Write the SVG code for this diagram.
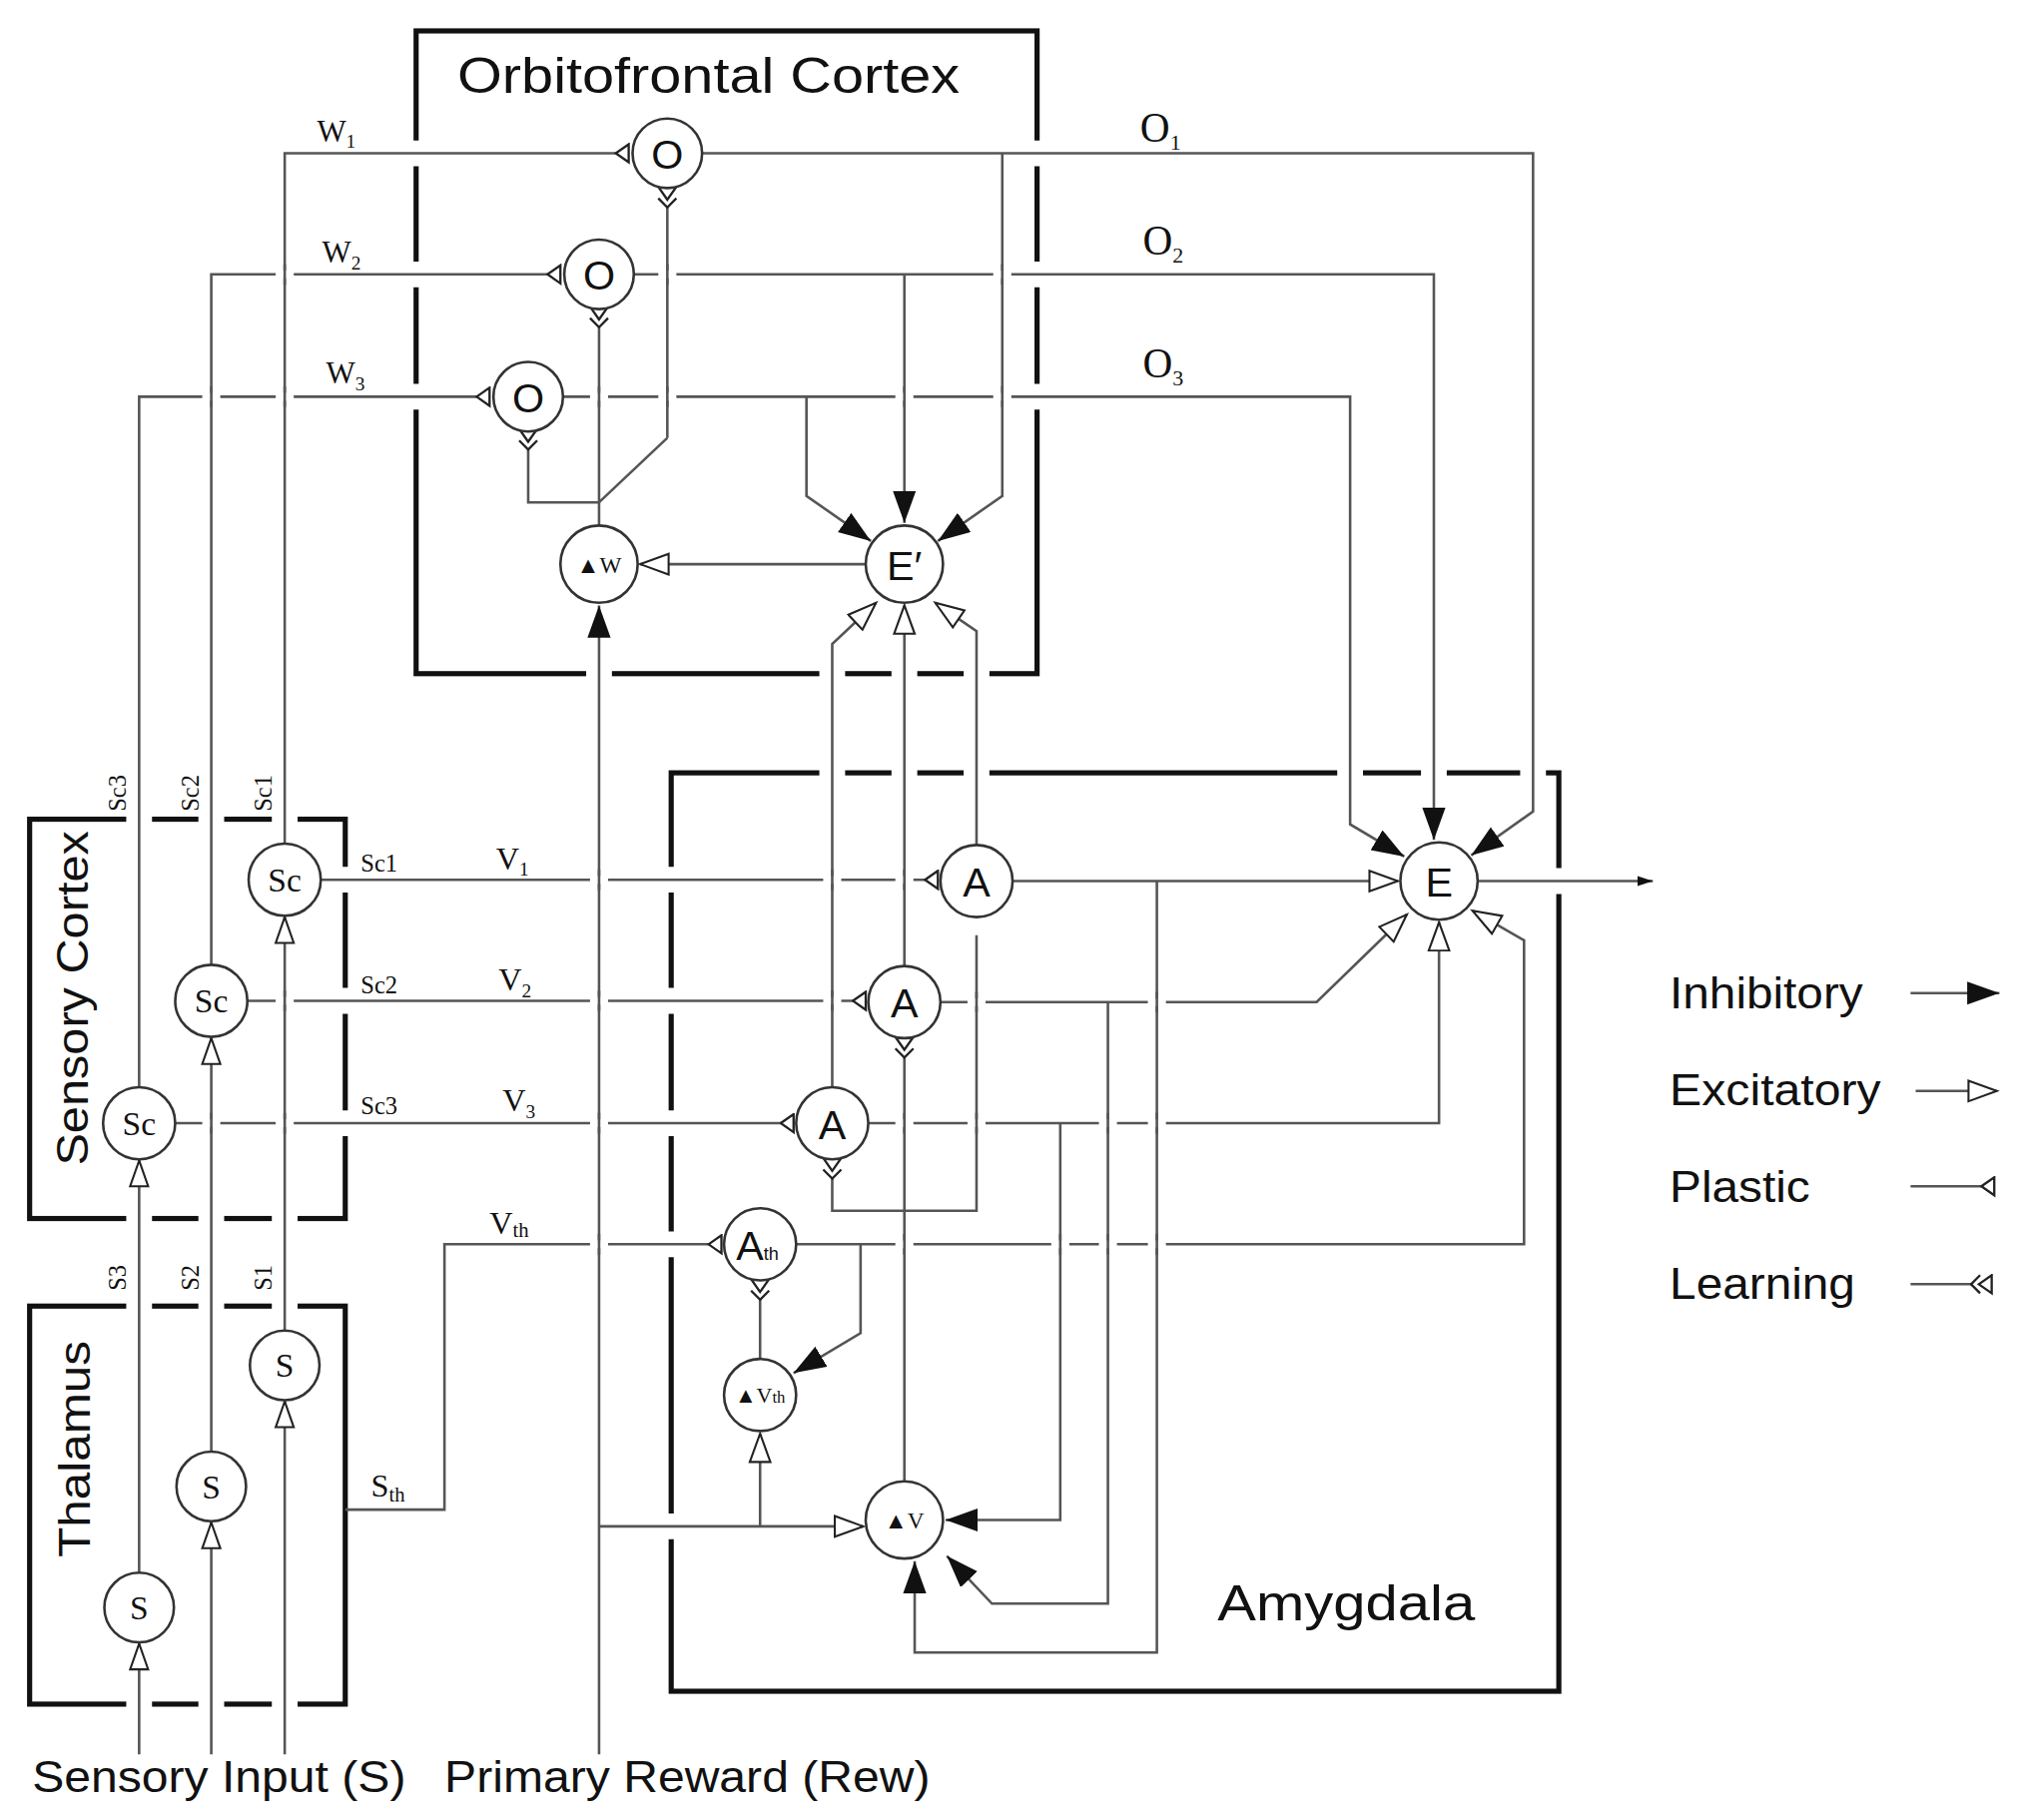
<svg xmlns="http://www.w3.org/2000/svg" width="2023" height="1823" viewBox="0 0 2023 1823">
<style>
.box{fill:none;stroke:#111;stroke-width:4}
.c{fill:none;stroke:#555;stroke-width:2}
.gw{fill:none;stroke:#fff;stroke-width:6}
.bw{fill:none;stroke:#fff;stroke-width:8}
.n{fill:#fff;stroke:#333;stroke-width:2}
.sans{font-family:"Liberation Sans",Arial,sans-serif;fill:#111}
.ser{font-family:"Liberation Serif","Times New Roman",serif;fill:#111}
.ex{fill:#fff;stroke:#222;stroke-width:1.6}
</style>
<defs>
<marker id="inh" markerUnits="userSpaceOnUse" markerWidth="32" markerHeight="22" refX="25" refY="9" orient="auto" viewBox="0 0 32 22"><path d="M0 0L25 9L0 18z" fill="#111"/></marker>
<marker id="inhs" markerUnits="userSpaceOnUse" markerWidth="16" markerHeight="10" refX="12" refY="4" orient="auto" viewBox="0 0 16 10"><path d="M0 0L12 4L0 8z" fill="#111"/></marker>
<marker id="exc" markerUnits="userSpaceOnUse" markerWidth="28" markerHeight="22" refX="23" refY="10" orient="auto" viewBox="0 0 28 22"><path d="M1 2L23 10L1 18z" fill="#fff" stroke="#222" stroke-width="1.6"/></marker>
<marker id="pla" markerUnits="userSpaceOnUse" markerWidth="16" markerHeight="18" refX="1" refY="8" orient="auto" viewBox="0 0 16 18"><path d="M1 8L11 1L11 15z" fill="#fff" stroke="#222" stroke-width="1.8"/></marker>
<marker id="lrn" markerUnits="userSpaceOnUse" markerWidth="22" markerHeight="18" refX="1" refY="8" orient="auto" viewBox="0 0 22 18"><path d="M8 1L1 8L8 15" fill="none" stroke="#222" stroke-width="1.8"/><path d="M7 8L17 1L17 15z" fill="#fff" stroke="#222" stroke-width="1.8"/></marker>
</defs>
<g transform="scale(1.2902)">
<g id="boxes">
<rect class="box" x="323" y="24" width="482" height="499"/>
<rect class="box" x="23" y="636" width="245" height="310"/>
<rect class="box" x="23" y="1014" width="245" height="309"/>
<rect class="box" x="521" y="600" width="689" height="713"/>
<path class="bw" d="M323 109v20M323 203v20M323 298v20M805 109v20M805 203v20M805 298v20M268 673v20M268 767v20M268 862v20M521 673v20M521 767v20M521 862v20M521 956v20M521 1175v20M1210 674v20M455 523h20M636 523h20M692 523h20M748 523h20M636 600h20M692 600h20M748 600h20M1038 600h20M1103 600h20M1180 600h20M98 636h20M154 636h20M211 636h20M98 946h20M154 946h20M211 946h20M98 1014h20M154 1014h20M211 1014h20M98 1323h20M154 1323h20M211 1323h20"/>
<text class="sans" x="355" y="72" font-size="38" textLength="390" lengthAdjust="spacingAndGlyphs">Orbitofrontal Cortex</text>
<text class="sans" font-size="34" transform="translate(68,775) rotate(-90)" text-anchor="middle" textLength="260" lengthAdjust="spacingAndGlyphs">Sensory Cortex</text>
<text class="sans" font-size="34" transform="translate(70,1125) rotate(-90)" text-anchor="middle" textLength="168" lengthAdjust="spacingAndGlyphs">Thalamus</text>
<text class="sans" x="945" y="1258" font-size="38" textLength="200" lengthAdjust="spacingAndGlyphs">Amygdala</text>
</g>
<g id="connectors">
<path class="c" d="M221 1362V119H478" marker-end="url(#pla)"/>
<path class="c" d="M164 1362V213H425" marker-end="url(#pla)"/>
<path class="c" d="M108 1362V308H370" marker-end="url(#pla)"/>
<path class="c" d="M249 683H718" marker-end="url(#pla)"/>
<path class="c" d="M192 777H662" marker-end="url(#pla)"/>
<path class="c" d="M136 872H606" marker-end="url(#pla)"/>
<path class="c" d="M268 1172H345V966H550" marker-end="url(#pla)"/>
<path class="c" d="M545 119H1190V630L1142 664" marker-end="url(#inh)"/>
<path class="c" d="M778 119V385L728 420" marker-end="url(#inh)"/>
<path class="c" d="M492 213H1113V652" marker-end="url(#inh)"/>
<path class="c" d="M702 213V406" marker-end="url(#inh)"/>
<path class="c" d="M437 308H1048V640L1090 665" marker-end="url(#inh)"/>
<path class="c" d="M626 308V385L676 420" marker-end="url(#inh)"/>
<path class="c" d="M518 340V161" marker-end="url(#lrn)"/>
<path class="c" d="M518 340L465 390"/>
<path class="c" d="M465 408V254" marker-end="url(#lrn)"/>
<path class="c" d="M465 390H410V349" marker-end="url(#lrn)"/>
<path class="c" d="M672 438H497" marker-end="url(#exc)"/>
<path class="c" d="M465 1362V470" marker-end="url(#inh)"/>
<path class="c" d="M465 1185H670" marker-end="url(#exc)"/>
<path class="c" d="M590 1185V1113" marker-end="url(#exc)"/>
<path class="c" d="M646 844V500L680 468" marker-end="url(#exc)"/>
<path class="c" d="M702 750V470" marker-end="url(#exc)"/>
<path class="c" d="M758 656V490L726 468" marker-end="url(#exc)"/>
<path class="c" d="M758 726V940H646V915" marker-end="url(#lrn)"/>
<path class="c" d="M702 1150V821" marker-end="url(#lrn)"/>
<path class="c" d="M786 684H1085" marker-end="url(#exc)"/>
<path class="c" d="M898 684V1283H710V1212" marker-end="url(#inh)"/>
<path class="c" d="M730 778H1022L1092 710" marker-end="url(#exc)"/>
<path class="c" d="M860 778V1245H770L735 1208" marker-end="url(#inh)"/>
<path class="c" d="M674 872H1117V716" marker-end="url(#exc)"/>
<path class="c" d="M823 872V1180H734" marker-end="url(#inh)"/>
<path class="c" d="M618 966H1183V730L1143 707" marker-end="url(#exc)"/>
<path class="c" d="M668 966V1035L616 1066" marker-end="url(#inh)"/>
<path class="c" d="M590 1055V1009" marker-end="url(#lrn)"/>
<path class="c" d="M1147 684H1283" marker-end="url(#inhs)"/>
<path class="gw" d="M214 213h14M157 308h14M214 308h14M458 308h14M511 308h14M695 308h14M771 308h14M511 213h14M771 213h14M458 683h14M639 683h14M695 683h14M214 777h14M458 777h14M639 777h14M157 872h14M214 872h14M458 872h14M458 966h14M751 778h14M891 778h14M695 872h14M751 872h14M853 872h14M891 872h14M695 966h14M816 966h14M853 966h14M891 966h14"/>
<path class="c" d="M221 205v16M164 300v16M221 300v16M465 300v16M518 300v16M702 300v16M778 300v16M518 205v16M778 205v16M465 675v16M646 675v16M702 675v16M221 769v16M465 769v16M646 769v16M164 864v16M221 864v16M465 864v16M465 958v16M758 770v16M898 770v16M702 864v16M758 864v16M860 864v16M898 864v16M702 958v16M823 958v16M860 958v16M898 958v16"/>
<polygon class="ex" points="221,1088 214,1108 228,1108"/>
<polygon class="ex" points="164,1182 157,1202 171,1202"/>
<polygon class="ex" points="108,1276 101,1296 115,1296"/>
<polygon class="ex" points="221,712 214,732 228,732"/>
<polygon class="ex" points="164,806 157,826 171,826"/>
<polygon class="ex" points="108,901 101,921 115,921"/>
</g>
<g id="labels" class="ser">
<text x="246" y="110" font-size="24">W<tspan font-size="15" dy="5">1</tspan></text>
<text x="250" y="204" font-size="24">W<tspan font-size="15" dy="5">2</tspan></text>
<text x="253" y="298" font-size="24">W<tspan font-size="15" dy="5">3</tspan></text>
<text x="885" y="110" font-size="32">O<tspan font-size="17" dy="6">1</tspan></text>
<text x="887" y="198" font-size="32">O<tspan font-size="17" dy="6">2</tspan></text>
<text x="887" y="293" font-size="32">O<tspan font-size="17" dy="6">3</tspan></text>
<text x="280" y="677" font-size="19">Sc1</text>
<text x="280" y="771" font-size="19">Sc2</text>
<text x="280" y="865" font-size="19">Sc3</text>
<text x="385" y="675" font-size="25">V<tspan font-size="15" dy="5">1</tspan></text>
<text x="387" y="769" font-size="25">V<tspan font-size="15" dy="5">2</tspan></text>
<text x="390" y="863" font-size="25">V<tspan font-size="15" dy="5">3</tspan></text>
<text x="380" y="958" font-size="25">V<tspan font-size="16" dy="2">th</tspan></text>
<text x="288" y="1162" font-size="25">S<tspan font-size="16" dy="4">th</tspan></text>
<text font-size="19" transform="translate(98,1002) rotate(-90)">S3</text>
<text font-size="19" transform="translate(154,1002) rotate(-90)">S2</text>
<text font-size="19" transform="translate(211,1002) rotate(-90)">S1</text>
<text font-size="19" transform="translate(98,630) rotate(-90)">Sc3</text>
<text font-size="19" transform="translate(154,630) rotate(-90)">Sc2</text>
<text font-size="19" transform="translate(211,630) rotate(-90)">Sc1</text>
<text class="sans" x="25" y="1391" font-size="34" textLength="290" lengthAdjust="spacingAndGlyphs">Sensory Input (S)</text>
<text class="sans" x="345" y="1391" font-size="34" textLength="377" lengthAdjust="spacingAndGlyphs">Primary Reward (Rew)</text>
</g>
<g id="O1"><circle class="n" cx="518" cy="119" r="27"/><text class="sans" x="518" y="131" font-size="32" text-anchor="middle">O</text></g>
<g id="O2"><circle class="n" cx="465" cy="213" r="27"/><text class="sans" x="465" y="225" font-size="32" text-anchor="middle">O</text></g>
<g id="O3"><circle class="n" cx="410" cy="308" r="27"/><text class="sans" x="410" y="320" font-size="32" text-anchor="middle">O</text></g>
<g id="dW"><circle class="n" cx="465" cy="438" r="30"/><text class="ser" x="465" y="445" font-size="18" text-anchor="middle">▲W</text></g>
<g id="Ep"><circle class="n" cx="702" cy="438" r="30"/><text class="sans" x="702" y="450" font-size="32" text-anchor="middle">E′</text></g>
<g id="E"><circle class="n" cx="1117" cy="684" r="30"/><text class="sans" x="1117" y="696" font-size="32" text-anchor="middle">E</text></g>
<g id="A1"><circle class="n" cx="758" cy="684" r="28"/><text class="sans" x="758" y="696" font-size="32" text-anchor="middle">A</text></g>
<g id="A2"><circle class="n" cx="702" cy="778" r="28"/><text class="sans" x="702" y="790" font-size="32" text-anchor="middle">A</text></g>
<g id="A3"><circle class="n" cx="646" cy="872" r="28"/><text class="sans" x="646" y="884" font-size="32" text-anchor="middle">A</text></g>
<g id="Ath"><circle class="n" cx="590" cy="966" r="28"/><text class="sans" x="588" y="978" font-size="32" text-anchor="middle">A<tspan font-size="14">th</tspan></text></g>
<g id="dVth"><circle class="n" cx="590" cy="1083" r="28"/><text class="ser" x="590" y="1089" font-size="17" text-anchor="middle">▲V<tspan font-size="13">th</tspan></text></g>
<g id="dV"><circle class="n" cx="702" cy="1180" r="30"/><text class="ser" x="702" y="1187" font-size="18" text-anchor="middle">▲V</text></g>
<g id="Sc1"><circle class="n" cx="221" cy="683" r="28"/><text class="ser" x="221" y="692" font-size="26" text-anchor="middle">Sc</text></g>
<g id="Sc2"><circle class="n" cx="164" cy="777" r="28"/><text class="ser" x="164" y="786" font-size="26" text-anchor="middle">Sc</text></g>
<g id="Sc3"><circle class="n" cx="108" cy="872" r="28"/><text class="ser" x="108" y="881" font-size="26" text-anchor="middle">Sc</text></g>
<g id="S1"><circle class="n" cx="221" cy="1060" r="27"/><text class="ser" x="221" y="1069" font-size="26" text-anchor="middle">S</text></g>
<g id="S2"><circle class="n" cx="164" cy="1154" r="27"/><text class="ser" x="164" y="1163" font-size="26" text-anchor="middle">S</text></g>
<g id="S3"><circle class="n" cx="108" cy="1248" r="27"/><text class="ser" x="108" y="1257" font-size="26" text-anchor="middle">S</text></g>
<g id="legend">
<text class="sans" x="1296" y="783" font-size="34" textLength="150" lengthAdjust="spacingAndGlyphs">Inhibitory</text>
<path class="c" d="M1483 771H1552" marker-end="url(#inh)"/>
<text class="sans" x="1296" y="858" font-size="34" textLength="164" lengthAdjust="spacingAndGlyphs">Excitatory</text>
<path class="c" d="M1487 847H1550" marker-end="url(#exc)"/>
<text class="sans" x="1296" y="933" font-size="34" textLength="109" lengthAdjust="spacingAndGlyphs">Plastic</text>
<path class="c" d="M1483 921H1538" marker-end="url(#pla)"/>
<text class="sans" x="1296" y="1008" font-size="34" textLength="144" lengthAdjust="spacingAndGlyphs">Learning</text>
<path class="c" d="M1483 997H1530" marker-end="url(#lrn)"/>
</g>
</g>
</svg>
